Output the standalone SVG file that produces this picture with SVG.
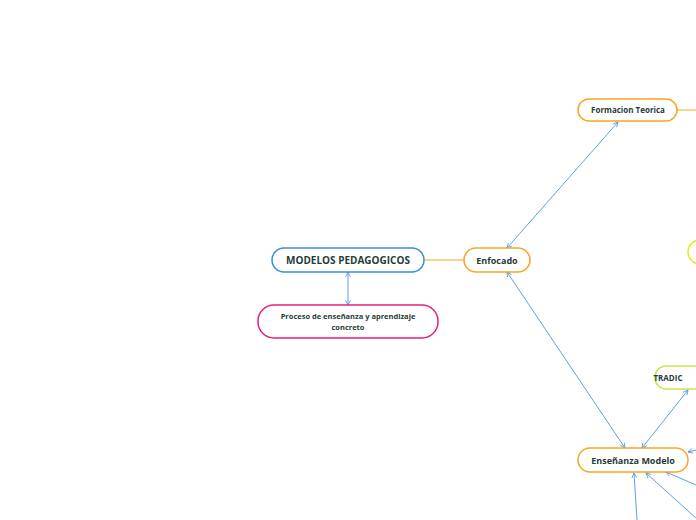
<svg xmlns="http://www.w3.org/2000/svg" width="696" height="520" viewBox="0 0 696 520">
<defs>
<marker id="a" viewBox="0 0 10 10" refX="9" refY="5" markerWidth="6" markerHeight="6" orient="auto-start-reverse"><path d="M1,1 L9,5 L1,9" fill="none" stroke="#4a90e2" stroke-width="1.3"/></marker>
<style>
.n{fill:#fff;stroke-width:1.5}
.t{font-family:"Open Sans","Noto Sans",sans-serif;font-weight:bold;fill:#1f3d38;text-anchor:middle}
.c{fill:none;stroke:#5aa0ea;stroke-width:1}
</style>
</defs>
<rect width="696" height="520" fill="#fff"/>
<g id="connectors">
<line x1="424" y1="260" x2="464" y2="260" stroke="#f5a623" stroke-width="1"/>
<line x1="677" y1="110" x2="696" y2="110" stroke="#f5a623" stroke-width="1"/>
<line class="c" x1="348" y1="272" x2="348" y2="305" marker-start="url(#a)" marker-end="url(#a)"/>
<line class="c" x1="507" y1="248" x2="618" y2="122" marker-start="url(#a)" marker-end="url(#a)"/>
<line class="c" x1="507" y1="272" x2="625" y2="448" marker-start="url(#a)" marker-end="url(#a)"/>
<line class="c" x1="642" y1="448" x2="688" y2="390" marker-start="url(#a)" marker-end="url(#a)"/>
<line class="c" x1="696" y1="450" x2="688" y2="452" marker-end="url(#a)"/>
<line class="c" x1="696" y1="485" x2="666" y2="472" marker-end="url(#a)"/>
<line class="c" x1="696" y1="518" x2="646" y2="473" marker-end="url(#a)"/>
<line class="c" x1="637" y1="520" x2="634" y2="473" marker-end="url(#a)"/>
</g>
<g id="n1"><rect class="n" x="272" y="248" width="152" height="24" rx="12" stroke="#3b8fd4"/><text class="t" x="348" y="264" font-size="10">MODELOS PEDAGOGICOS</text></g>
<g id="n2"><rect class="n" x="258" y="305" width="180" height="33" rx="16" stroke="#e8207a"/><text class="t" x="348" y="319" font-size="7.5">Proceso de enseñanza y aprendizaje</text><text class="t" x="348" y="330" font-size="7.5">concreto</text></g>
<g id="n3"><rect class="n" x="464" y="248" width="66" height="24" rx="12" stroke="#f5a623"/><text class="t" x="497" y="264" font-size="9">Enfocado</text></g>
<g id="n4"><rect class="n" x="578" y="99" width="99" height="22" rx="11" stroke="#f5a623"/><text class="t" x="628" y="113" font-size="8">Formacion Teorica</text></g>
<g id="n5"><rect class="n" x="578" y="448" width="110" height="24" rx="12" stroke="#f5a623"/><text class="t" x="633" y="464" font-size="9">Enseñanza Modelo</text></g>
<g id="n6"><rect class="n" x="655" y="366" width="60" height="23" rx="11" stroke="#c5e84a"/><text class="t" x="668" y="381" font-size="8" text-anchor="start">TRADIC</text></g>
<g id="n7"><rect class="n" x="688" y="240" width="30" height="24" rx="12" stroke="#e8e820"/></g>
</svg>
